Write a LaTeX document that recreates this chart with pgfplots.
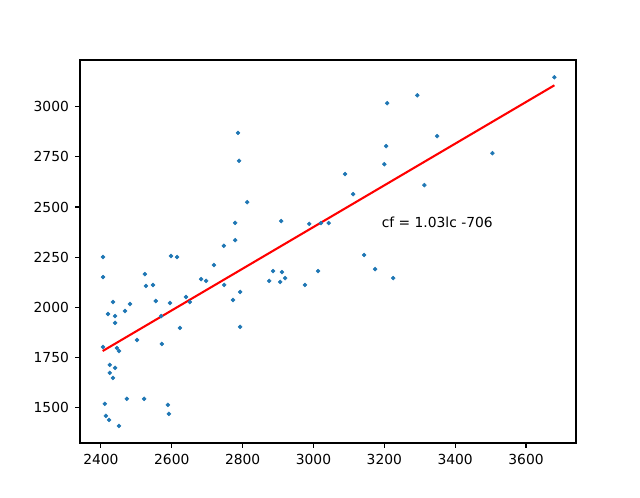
\documentclass[border=0pt]{standalone}
\usepackage{fontspec}
\setmainfont{DejaVu Sans}
\usepackage{pgfplots}
\pgfplotsset{compat=1.18}
\definecolor{tabblue}{HTML}{1F77B4}

\begin{document}
\begin{tikzpicture}
\path (0,0) rectangle (6.4in,4.98in);
\begin{axis}[%
at={(0.8in,0.55in)},
anchor=south west,
width=4.96in,
height=3.83in,
scale only axis,
xmin=2341, xmax=3741,
ymin=1325, ymax=3232,
xtick={2400,2600,...,3600},
ytick={1500,1750,...,3000},
tick align=outside,
tick pos=left,
major tick length=3.5pt,
every tick/.style={black,line width=0.8pt},
axis line style={line width=0.8pt},
tick label style={font=\fontsize{10}{12}\selectfont},
/pgf/number format/assume math mode=true,
/pgf/number format/1000 sep={},
xticklabel style={yshift=-1pt},
yticklabel style={xshift=-1pt},
clip=false
]
\addplot [only marks, mark=*, mark size=1.4pt, color=tabblue] table {
x y
2406 2251
2406 2151
2598 2256
2615 2251
2524 2166
2527 2107
2547 2112
2434 2027
2482 2017
2468 1982
2420 1967
2440 1957
2440 1923
2555 2032
2595 2022
2640 2052
2651 2027
2570 1957
2623 1898
2502 1838
2572 1818
2406 1803
2445 1798
2451 1783
2425 1714
2440 1699
2425 1674
2434 1649
2411 1520
2473 1545
2522 1545
2589 1515
2592 1470
2414 1460
2423 1440
2451 1410
2719 2211
2683 2141
2697 2132
2748 2112
2793 2077
2773 2037
2793 1903
2886 2181
2911 2176
2875 2132
2906 2127
2920 2146
2976 2112
3013 2181
2747 2307
2779 2335
2779 2421
2787 2869
2790 2730
2813 2524
2909 2430
2988 2416
3021 2420
3043 2420
3680 3146
3293 3056
3208 3017
3349 2853
3205 2803
3505 2768
3200 2713
3089 2664
3112 2564
3313 2609
3143 2261
3174 2191
3225 2146
};
\addplot [color=red, line width=1.5pt] table {
x y
2405 1783
3680 3106
};
\node [anchor=base west, font=\fontsize{10}{12}\selectfont, inner sep=0pt] at (axis cs:3192,2400) {cf = 1.03lc -706};
\end{axis}
\end{tikzpicture}
\end{document}
